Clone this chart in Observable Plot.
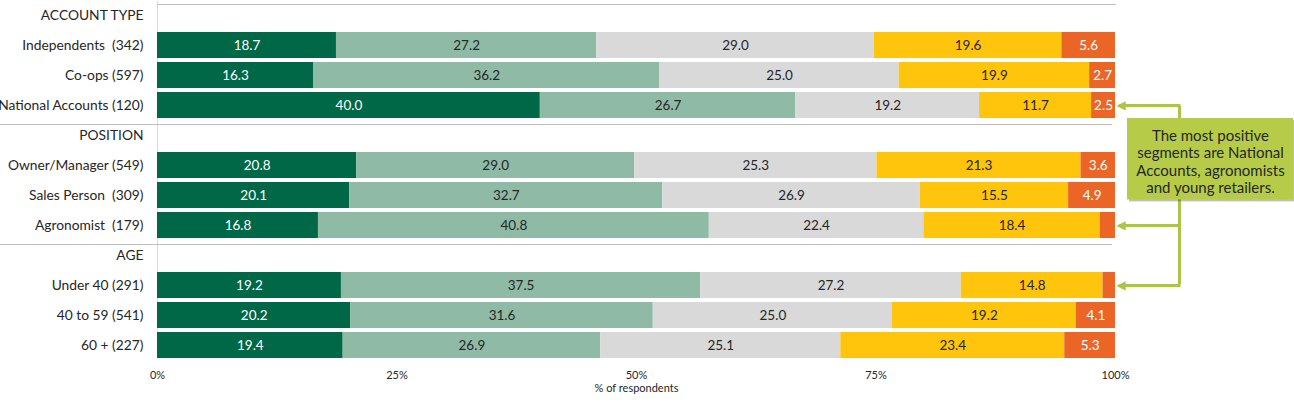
<!DOCTYPE html>
<html><head><meta charset="utf-8">
<script src="https://cdn.jsdelivr.net/npm/d3@7"></script>
<script src="https://cdn.jsdelivr.net/npm/@observablehq/plot@0.6"></script>
<style>body{margin:0;background:#fff;}</style>
</head><body><div id="chart"></div>
<script>
const categories = ["ACCOUNT TYPE", "Independents  (342)", "Co-ops (597)", "National Accounts (120)",
  "POSITION", "Owner/Manager (549)", "Sales Person  (309)", "Agronomist  (179)",
  "AGE", "Under 40 (291)", "40 to 59 (541)", "60 + (227)"];
const rows = ["Independents  (342)", "Co-ops (597)", "National Accounts (120)",
  "Owner/Manager (549)", "Sales Person  (309)", "Agronomist  (179)",
  "Under 40 (291)", "40 to 59 (541)", "60 + (227)"];
const headers = ["ACCOUNT TYPE", "POSITION", "AGE"];
const series = ["Very positive", "Positive", "Neutral", "Negative", "Very negative"];
const s1 = [18.7, 16.3, 40.0, 20.8, 20.1, 16.8, 19.2, 20.2, 19.4];
const s2 = [27.2, 36.2, 26.7, 29.0, 32.7, 40.8, 37.5, 31.6, 26.9];
const s3 = [29.0, 25.0, 19.2, 25.3, 26.9, 22.4, 27.2, 25.0, 25.1];
const s4 = [19.6, 19.9, 11.7, 21.3, 15.5, 18.4, 14.8, 19.2, 23.4];
const s5 = [5.6, 2.7, 2.5, 3.6, 4.9, 1.6, 1.3, 4.1, 5.3];
const xTicks = [0, 0.25, 0.5, 0.75, 1];
const xTickLabels = ["0%", "25%", "50%", "75%", "100%"];
const highlighted = ["National Accounts (120)", "Agronomist  (179)", "Under 40 (291)"];
const annText = "The most positive\nsegments are National\nAccounts, agronomists\nand young retailers.";
const axisTitle = "% of respondents";

const values = [s1, s2, s3, s4, s5];
const data = [];
rows.forEach((r, i) => series.forEach((s, j) => data.push({row: r, series: s, si: j, value: values[j][i]})));

const stack = (opts) => Plot.stackX({x: "value", y: "row", offset: "normalize", ...opts});
const lbl = (cond) => (d) => (cond(d.si) && d.value >= 2 ? d.value.toFixed(1) : "");

const green = "#A9C64B";
const boxX1 = 1.0125, boxX2 = 1.1858, annX = 1.0668;

const chart = Plot.plot({
  width: 1294, height: 402,
  marginLeft: 157, marginRight: 179, marginTop: 1, marginBottom: 44,
  style: {fontFamily: "Lato, sans-serif", fontSize: "13px", color: "#262626", background: "#fff", overflow: "visible"},
  x: {domain: [0, 1]},
  y: {type: "band", domain: categories, paddingInner: 0.136, paddingOuter: 0},
  color: {domain: series, range: ["#006847", "#8FBAA6", "#D9D9D9", "#FFC40C", "#EB6527"]},
  marks: [
    Plot.ruleX([0], {stroke: "#d9d9d9"}),
    Plot.ruleY(["ACCOUNT TYPE"], {x1: 0, x2: 1.001, dy: -11, stroke: "#bfbfbf"}),
    Plot.ruleY(["POSITION", "AGE"], {x1: -0.164, x2: 0.997, dy: -11, stroke: "#bfbfbf"}),
    Plot.barX(data, stack({fill: "series"})),
    Plot.text(data, stack({text: lbl(j => j === 0 || j === 4), fill: "white", fontSize: 13.5})),
    Plot.text(data, stack({text: lbl(j => j > 0 && j < 4), fill: "#262626", fontSize: 13.5})),
    Plot.axisY({tickSize: 0, tickPadding: 14, fontSize: 13.8, label: null}),
    Plot.axisX({ticks: xTicks, tickFormat: d => xTickLabels[xTicks.indexOf(d)], tickSize: 0, tickPadding: 13, fontSize: 11, label: null}),
    Plot.text([axisTitle], {frameAnchor: "bottom", text: d => d, dy: 33, fontSize: 11}),
    // annotation
    Plot.ruleX([annX], {y1: () => highlighted[0], y2: () => highlighted[2], insetTop: 14, insetBottom: 14, stroke: green, strokeWidth: 3}),
    Plot.ruleY(highlighted, {x1: 1.004, x2: annX + 0.0015, stroke: green, strokeWidth: 3}),
    Plot.text(highlighted, {x: 1.001, y: d => d, text: () => "◀", textAnchor: "start", fill: green, fontSize: 12, fontFamily: "DejaVu Sans"}),
    Plot.rect([0], {x1: boxX1, x2: boxX2, y1: () => highlighted[0], y2: () => highlighted[1], insetTop: 26, insetBottom: 38.6, fill: "#000", fillOpacity: 0.25, dx: 2, dy: 2}),
    Plot.rect([0], {x1: boxX1, x2: boxX2, y1: () => highlighted[0], y2: () => highlighted[1], insetTop: 26, insetBottom: 38.6, fill: "#B6CC48"}),
    Plot.text([annText], {x: (boxX1 + boxX2) / 2, y: () => "Owner/Manager (549)", dy: -4, text: d => d, lineHeight: 1.17, fontSize: 15, fill: "#262626"})
  ]
});
document.getElementById("chart").appendChild(chart);
</script>
</body></html>
